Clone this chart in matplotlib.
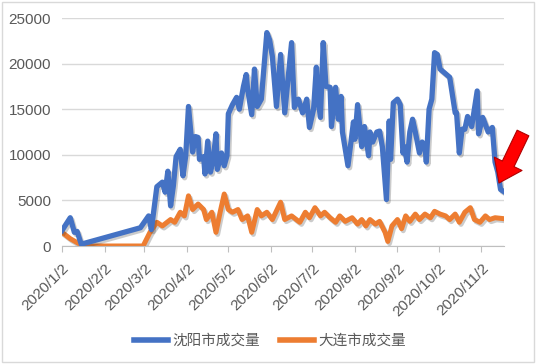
import numpy as np
import pandas as pd
import matplotlib
matplotlib.use("Agg")
import matplotlib.pyplot as plt
import matplotlib.patheffects as pe
from matplotlib.lines import Line2D

# 数据（从图中读取，单位：套）
start = pd.Timestamp("2020-01-02")

sy_days = [0, 6, 9, 11, 14, 57, 63, 65, 69, 73,
           75, 77, 79, 81, 83, 86, 88, 90, 92, 95,
           97, 99, 100, 103, 104, 106, 108, 110, 112, 113,
           116, 118, 120, 121, 124, 127, 129, 132, 134, 135,
           138, 140, 142, 145, 149, 151, 153, 156, 159, 162,
           167, 169, 172, 175, 178, 180, 183, 185, 186, 188,
           190, 192, 195, 196, 199, 201, 203, 204, 208, 212,
           213, 215, 218, 220, 223, 224, 226, 229, 231, 233,
           236, 238, 239, 241, 244, 246, 248, 249, 251, 253,
           255, 257, 260, 262, 264, 265, 267, 269, 271, 273,
           275, 282, 286, 287, 289, 291, 293, 295, 298, 302,
           303, 306, 310, 313, 315, 317, 319, 321]
sy_vals = [1700, 3100, 1500, 1600, 200, 2000, 3300, 1800, 6500, 7000,
           5900, 8200, 4400, 6600, 9800, 10600, 7700, 9900, 15300, 10300,
           12000, 11900, 9500, 9800, 7900, 11500, 8100, 9500, 12300, 8400,
           10200, 8800, 9900, 14500, 15500, 16300, 15000, 17500, 18800, 17200,
           14400, 19400, 15300, 16100, 23400, 22600, 20800, 15300, 21000, 14600,
           22300, 15200, 16100, 14600, 16100, 13000, 15000, 19600, 16400, 14100,
           22300, 17500, 17400, 13100, 17400, 13900, 16400, 12500, 8800, 13600,
           11700, 15500, 10900, 13100, 9900, 12500, 11400, 12500, 12600, 10900,
           5100, 13700, 9500, 15700, 16100, 15500, 10200, 10900, 9200, 12500,
           13900, 12500, 10200, 11400, 10900, 9200, 15000, 16100, 21200, 21000,
           19400, 18500, 14600, 14600, 10200, 12800, 12800, 14200, 13100, 17000,
           12300, 14100, 12500, 13000, 9200, 8100, 6200, 6000]

dl_days = [0, 6, 13, 17, 59, 64, 69, 73, 79, 82,
           86, 89, 92, 95, 99, 103, 105, 109, 112, 115,
           118, 121, 124, 128, 131, 135, 138, 142, 145, 149,
           153, 159, 162, 167, 173, 177, 180, 184, 188, 191,
           195, 199, 202, 206, 211, 215, 218, 221, 224, 228,
           231, 235, 237, 240, 244, 247, 250, 253, 257, 260,
           264, 268, 271, 275, 279, 282, 286, 289, 293, 297,
           300, 304, 308, 311, 315, 321]
dl_vals = [1500, 800, 200, 0, 0, 1500, 2600, 2200, 2900, 2600,
           3700, 3300, 5500, 4000, 4600, 4000, 2900, 3700, 1500, 3700,
           5700, 4000, 3700, 4000, 2900, 3300, 1500, 4000, 3300, 3700,
           2900, 4800, 2900, 3300, 2600, 3700, 3100, 4200, 3300, 3700,
           3100, 2600, 3300, 2700, 3100, 2400, 2900, 2200, 2900, 2400,
           2700, 1500, 500, 2200, 2900, 1900, 3300, 2700, 3500, 2900,
           3500, 3100, 3800, 3500, 3300, 2900, 3500, 2600, 3700, 4200,
           2900, 2600, 3300, 2900, 3100, 3000]

tick_labels = ["2020/1/2", "2020/2/2", "2020/3/2", "2020/4/2", "2020/5/2", "2020/6/2",
               "2020/7/2", "2020/8/2", "2020/9/2", "2020/10/2", "2020/11/2"]
series_names = ["沈阳市成交量", "大连市成交量"]

sy_dates = start + pd.to_timedelta(sy_days, unit="D")
dl_dates = start + pd.to_timedelta(dl_days, unit="D")
tick_dates = pd.to_datetime(tick_labels, format="%Y/%m/%d")

plt.rcParams["font.family"] = ["Liberation Sans", "Noto Sans CJK SC", "DejaVu Sans"]

BLUE = "#4472C4"
ORANGE = "#ED7D31"
GREY = "#595959"

fig = plt.figure(figsize=(5.4, 3.64), dpi=100)
ax = fig.add_axes([62 / 540, 118 / 364, 442 / 540, 228 / 364])

shadow = [pe.SimpleLineShadow(offset=(1.2, -1.5), alpha=0.25, shadow_color="#333333"), pe.Normal()]
ax.plot(sy_dates, sy_vals, color=BLUE, lw=3.8, solid_joinstyle="round", path_effects=shadow, zorder=3)
ax.plot(dl_dates, dl_vals, color=ORANGE, lw=3.6, solid_joinstyle="round", path_effects=shadow, zorder=2)

# 坐标轴设置
ax.set_ylim(0, 25000)
ax.set_yticks(np.arange(0, 25001, 5000))
ax.set_xlim(start, start + pd.Timedelta(days=321.5))
ax.set_xticks(tick_dates)
ax.set_xticklabels(tick_labels, rotation=45, ha="right", rotation_mode="anchor")
ax.grid(axis="y", color="#D9D9D9", lw=1)
ax.set_axisbelow(True)
for s in ["top", "right", "left"]:
    ax.spines[s].set_visible(False)
ax.spines["bottom"].set_color("#BFBFBF")
ax.tick_params(axis="y", length=0, pad=8, labelsize=11, labelcolor=GREY)
ax.tick_params(axis="x", length=4, color="#BFBFBF", pad=7, labelsize=11, labelcolor=GREY)

# 凡例
handles = [Line2D([], [], color=BLUE, lw=4), Line2D([], [], color=ORANGE, lw=4)]
fig.legend(handles, series_names, loc="center", bbox_to_anchor=(0.5, 1 - 341 / 364), ncol=2,
           frameon=False, prop={"family": ["Noto Sans CJK SC", "DejaVu Sans"], "size": 10.5},
           labelcolor=GREY, handlelength=2.3, handletextpad=0.3, columnspacing=1.4)

# 赤い矢印
ax.annotate("", xy=(499, 364 - 183), xycoords="figure pixels",
            xytext=(523, 364 - 133), textcoords="figure pixels",
            arrowprops=dict(arrowstyle="simple,head_length=0.9,head_width=1.3,tail_width=0.55",
                            fc="#FF0000", ec="#B00000", lw=0.8, mutation_scale=17,
                            shrinkA=0, shrinkB=0))

# 外枠
fig.add_artist(plt.Rectangle((1.5 / 540, 2.5 / 364), 532 / 540, 360 / 364, transform=fig.transFigure,
                             fill=False, ec="#D9D9D9", lw=1))

fig.savefig("out.png", dpi=100)
